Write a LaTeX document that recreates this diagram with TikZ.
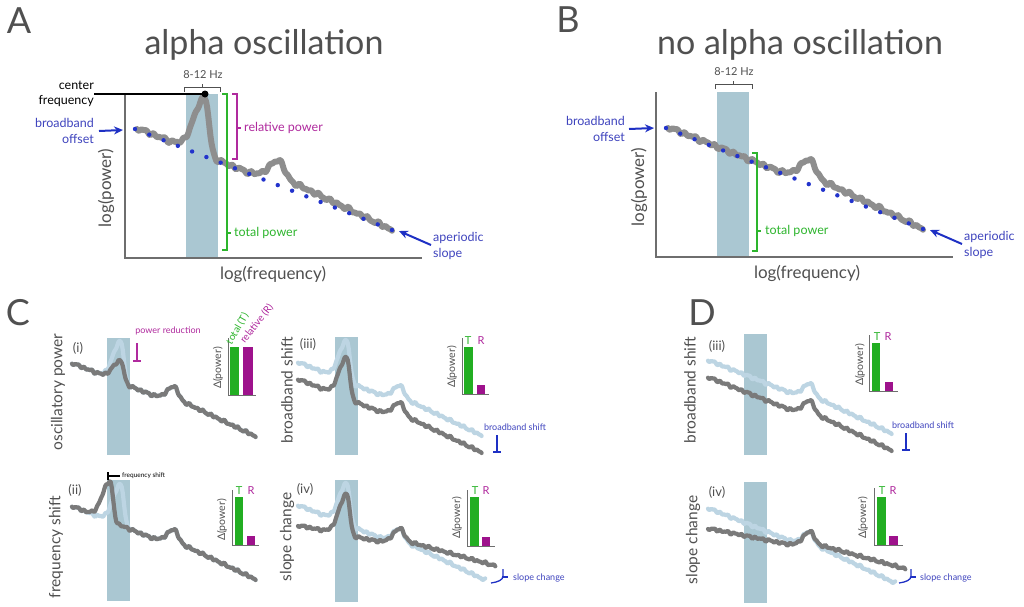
\documentclass[tikz,border=0pt]{standalone}
\usepackage{fontspec}
\setmainfont{Lato}
\usetikzlibrary{arrows.meta}
\definecolor{txtgray}{HTML}{505050}
\definecolor{axgray}{HTML}{6E6E6E}
\definecolor{curvegray}{HTML}{8E8E8E}
\definecolor{darkcurve}{HTML}{7A7A7A}
\definecolor{lightcurve}{HTML}{BDD5E3}
\definecolor{bandc}{HTML}{AAC7D2}
\definecolor{myblue}{HTML}{1E30C4}
\definecolor{dotc}{HTML}{2233CC}
\definecolor{bluetxt}{HTML}{3F44BE}
\definecolor{mymag}{HTML}{B02A9E}
\definecolor{mygreen}{HTML}{2DB52D}
\definecolor{barmag}{HTML}{9E128C}
\definecolor{bargreen}{HTML}{22AE22}
\tikzset{
 declare function={
  sq(\t)=\t*\t;
  nz(\x)=1.2*sin(37*\x)+0.8*sin(59*\x+40)+0.5*sin(23*\x+70);
  pk(\x,\C)=exp(-min(sq((\x-\C)/ifthenelse(\x<\C,15,5.5)),20));
  bp(\x)=18*exp(-min(sq((\x-141)/ifthenelse(\x<141,15,8)),20))+9*(255-\x)/115/(1+exp(min((138-\x)/3,9)));
  spec(\x,\A,\C)=0.4*\x-\A*pk(\x,\C)-bp(\x)+nz(\x);
 },
 letter/.style={font=\fontsize{36}{36}\selectfont, text=txtgray, inner sep=0},
 ttl/.style={font=\fontsize{34}{34}\selectfont, text=txtgray, inner sep=0},
 axlab/.style={font=\fontsize{17}{17}\selectfont, text=txtgray, inner sep=0},
 ann/.style={font=\fontsize{12.5}{15.5}\selectfont, inner sep=0},
 sidelab/.style={font=\fontsize{15.5}{15.5}\selectfont, text=txtgray, inner sep=0, rotate=90},
 numlab/.style={font=\fontsize{13}{13}\selectfont, text=txtgray, inner sep=0},
 hzlab/.style={font=\fontsize{11}{11}\selectfont, text=txtgray, inner sep=0},
 smalllab/.style={font=\fontsize{9}{9}\selectfont, inner sep=0},
 tinylab/.style={font=\fontsize{6.5}{6.5}\selectfont, inner sep=0},
 barlab/.style={font=\fontsize{11}{11}\selectfont, inner sep=0},
 rotlab/.style={font=\fontsize{10}{10}\selectfont, inner sep=0},
 dlab/.style={font=\fontsize{10.5}{10.5}\selectfont, text=txtgray, inner sep=0, rotate=90},
 axisline/.style={draw=axgray, line width=2.6pt},
 bigcurve/.style={draw=curvegray, line width=6pt, line join=round, line cap=round},
 dcurve/.style={draw=darkcurve, line width=4.2pt, line join=round, line cap=round},
 lcurve/.style={draw=lightcurve, line width=4.2pt, line join=round, line cap=round},
 bandfill/.style={fill=bandc},
 bararrow/.style={draw=myblue, line width=2pt, -{Stealth[length=9pt,width=8pt]}},
 baxis/.style={draw=axgray, line width=0.9pt},
 hzbr/.style={draw=txtgray, line width=0.9pt},
 magbr/.style={draw=mymag, line width=1.4pt},
 grnbr/.style={draw=mygreen, line width=1.4pt},
 bluemark/.style={draw=myblue, line width=1.3pt},
 gbar/.style={fill=bargreen},
 mbar/.style={fill=barmag},
}
\begin{document}
\begin{tikzpicture}[x=1pt,y=-1pt]
\useasboundingbox (0,0) rectangle (1024,606);
\fill[white] (0,0) rectangle (1024,606);

% ================= Panel A =================
\node[letter] (LA) at (19,21) {A};
\node[ttl] (TA) at (264,45) {alpha oscillation};
\fill[bandfill] (186,94) rectangle (218,258);
\draw[axisline] (125,93) -- (125,258) -- (422,258);
\begin{scope}[shift={(137,128)}]
 \draw[bigcurve] plot[domain=0:255,samples=230] (\x,{spec(\x,57,68)});
 \foreach \i in {0,...,18} \fill[dotc] ({-2+\i*257/18},{1+\i*101/18}) circle[radius=2.2pt];
\end{scope}
\node[hzlab] (hzA) at (203,75) {8-12 Hz};
\draw[hzbr] (184,92) -- (184,87) -- (220,87) -- (220,92);
\draw[hzbr] (202,87) -- (202,84);
\node[ann, anchor=east, align=right] (cf) at (94,94) {center\\frequency};
\node[fill=black, circle, inner sep=0, minimum size=7pt] (cfdot) at (205,94) {};
\draw[line width=1.6pt] (cf.east) -- (cfdot.center);
\node[ann, text=bluetxt, anchor=east, align=right] (boA) at (94,131) {broadband\\offset};
\coordinate (boAt) at (123,130);
\draw[bararrow] ([xshift=5pt]boA.east) -- (boAt);
\draw[magbr] (232,94) -- (237,94) -- (237,159) -- (232,159);
\draw[magbr] (237,128) -- (241,128);
\node[ann, text=mymag, anchor=west] (rpA) at (244,128) {relative power};
\draw[grnbr] (222,94) -- (227,94) -- (227,250) -- (222,250);
\draw[grnbr] (227,233) -- (231,233);
\node[ann, text=mygreen, anchor=west] (tpA) at (234,233) {total power};
\node[ann, text=bluetxt, anchor=west, align=left] (apA) at (433,246) {aperiodic\\slope};
\coordinate (apAt) at (399,231);
\draw[bararrow] ([xshift=-2pt,yshift=1pt]apA.west) -- (apAt);
\node[axlab, rotate=90] (ylA) at (106,188) {log(power)};
\node[axlab] (xlA) at (273,274) {log(frequency)};

% ================= Panel B =================
\node[letter] (LB) at (568,20) {B};
\node[ttl] (TB) at (800,45) {no alpha oscillation};
\fill[bandfill] (717,92) rectangle (749,257);
\draw[axisline] (656,92) -- (656,257) -- (953,257);
\begin{scope}[shift={(668,127)}]
 \draw[bigcurve] plot[domain=0:255,samples=230] (\x,{spec(\x,0,68)});
 \foreach \i in {0,...,18} \fill[dotc] ({-2+\i*257/18},{1+\i*101/18}) circle[radius=2.2pt];
\end{scope}
\node[hzlab] (hzB) at (734,72) {8-12 Hz};
\draw[hzbr] (715,89) -- (715,84) -- (752,84) -- (752,89);
\draw[hzbr] (733,84) -- (733,81);
\node[ann, text=bluetxt, anchor=east, align=right] (boB) at (625,129) {broadband\\offset};
\coordinate (boBt) at (654,128);
\draw[bararrow] ([xshift=4pt]boB.east) -- (boBt);
\draw[grnbr] (752,153) -- (757,153) -- (757,251) -- (752,251);
\draw[grnbr] (757,231) -- (761,231);
\node[ann, text=mygreen, anchor=west] (tpB) at (765,231) {total power};
\node[ann, text=bluetxt, anchor=west, align=left] (apB) at (964,245) {aperiodic\\slope};
\coordinate (apBt) at (930,230);
\draw[bararrow] ([xshift=-2pt,yshift=1pt]apB.west) -- (apBt);
\node[axlab, rotate=90] (ylB) at (639,187) {log(power)};
\node[axlab] (xlB) at (807,273) {log(frequency)};

% ================= Panel C =================
\node[letter] (LC) at (18,313) {C};

% (i) oscillatory power
\fill[bandfill] (107,338) rectangle (130,455);
\begin{scope}[shift={(72,363)}, scale=0.72]
 \draw[lcurve] plot[domain=0:255,samples=200] (\x,{spec(\x,57,68)});
 \draw[dcurve] plot[domain=0:255,samples=200] (\x,{spec(\x,30,68)});
\end{scope}
\node[numlab] (ci) at (78,348) {(i)};
\node[sidelab] (cil) at (58,392) {oscillatory power};
\node[smalllab, text=mymag] (prl) at (168,331) {power reduction};
\draw[magbr, line width=1.2pt] (137,343) -- (137,361);
\draw[magbr, line width=1.2pt] (133,361) -- (141,361);
\draw[baxis] (228,338) -- (228,395) -- (256,395);
\fill[gbar] (230,347) rectangle (239,395);
\fill[mbar] (243,347) rectangle (253,395);
\node[rotlab, text=mygreen, rotate=60, anchor=south west] (tT) at (233,346) {total (T)};
\node[rotlab, text=mymag, rotate=52, anchor=south west] (tR) at (246,345) {relative (R)};
\node[dlab] (dci) at (218,368) {Δ(power)};

% (ii) frequency shift
\fill[bandfill] (107,480) rectangle (130,601);
\begin{scope}[shift={(72,506)}, scale=0.72]
 \draw[lcurve] plot[domain=0:255,samples=200] (\x,{spec(\x,57,68)});
 \draw[dcurve] plot[domain=0:255,samples=200] (\x,{spec(\x,55,53)});
\end{scope}
\node[numlab] (cii) at (75,490) {(ii)};
\node[sidelab] (ciil) at (56,547) {frequency shift};
\draw[line width=1.2pt] (108,472) -- (108,480);
\draw[line width=1.2pt] (108,476) -- (120,476);
\node[tinylab, anchor=west] (fsl) at (122,476) {frequency shift};
\draw[baxis] (232,490) -- (232,545) -- (259,545);
\fill[gbar] (235,497) rectangle (243,545);
\fill[mbar] (247,536) rectangle (255,545);
\node[barlab, text=mygreen] (Tii) at (239,491) {T};
\node[barlab, text=mymag] (Rii) at (251,491) {R};
\node[dlab] (dcii) at (222,520) {Δ(power)};

% (iii) broadband shift
\fill[bandfill] (335,337) rectangle (358,455);
\begin{scope}[shift={(298,362)}, scale=0.72]
 \draw[lcurve] plot[domain=0:255,samples=200] (\x,{spec(\x,57,68)});
\end{scope}
\begin{scope}[shift={(298,379)}, scale=0.72]
 \draw[dcurve] plot[domain=0:255,samples=200] (\x,{spec(\x,57,68)});
\end{scope}
\node[numlab] (ciii) at (308,344) {(iii)};
\node[sidelab] (ciiil) at (287,390) {broadband shift};
\draw[baxis] (462,338) -- (462,394) -- (489,394);
\fill[gbar] (464,347) rectangle (473,394);
\fill[mbar] (477,385) rectangle (485,394);
\node[barlab, text=mygreen] (Tiii) at (468,341) {T};
\node[barlab, text=mymag] (Riii) at (481,341) {R};
\node[dlab] (dciii) at (452,367) {Δ(power)};
\node[smalllab, text=bluetxt] (bsl) at (515,427) {broadband shift};
\draw[bluemark] (497,435) -- (497,452);
\draw[bluemark] (493,452) -- (501,452);

% (iv) slope change
\fill[bandfill] (335,480) rectangle (358,602);
\begin{scope}[shift={(298,505)}, scale=0.72]
 \draw[lcurve] plot[domain=0:260,samples=200] (\x,{spec(\x,57,68)});
 \draw[dcurve] plot[domain=0:274,samples=210] (\x,{spec(\x,57,68)-0.2*(\x-141)});
\end{scope}
\node[numlab] (civ) at (305,489) {(iv)};
\node[sidelab] (civl) at (287,537) {slope change};
\draw[baxis] (467,490) -- (467,546) -- (495,546);
\fill[gbar] (470,497) rectangle (479,546);
\fill[mbar] (482,537) rectangle (490,546);
\node[barlab, text=mygreen] (Tiv) at (475,491) {T};
\node[barlab, text=mymag] (Riv) at (486,491) {R};
\node[dlab] (dciv) at (457,518) {Δ(power)};
\node[smalllab, text=bluetxt, anchor=west] (scl) at (513,578) {slope change};
\draw[bluemark] (503,569) -- (503,576) .. controls (503,580) and (498,582) .. (491,583);
\draw[bluemark] (503,577) -- (508,577);

% ================= Panel D =================
\node[letter] (LD) at (702,313) {D};

% (iii) broadband shift
\fill[bandfill] (744,334) rectangle (767,455);
\begin{scope}[shift={(708,360)}, scale=0.72]
 \draw[lcurve] plot[domain=0:255,samples=200] (\x,{spec(\x,0,68)});
\end{scope}
\begin{scope}[shift={(708,377)}, scale=0.72]
 \draw[dcurve] plot[domain=0:255,samples=200] (\x,{spec(\x,0,68)});
\end{scope}
\node[numlab] (diii) at (717,346) {(iii)};
\node[sidelab] (diiil) at (690,390) {broadband shift};
\draw[baxis] (869,335) -- (869,391) -- (898,391);
\fill[gbar] (872,343) rectangle (880,391);
\fill[mbar] (885,382) rectangle (893,391);
\node[barlab, text=mygreen] (TDiii) at (877,337) {T};
\node[barlab, text=mymag] (RDiii) at (888,337) {R};
\node[dlab] (ddiii) at (860,365) {Δ(power)};
\node[smalllab, text=bluetxt] (bslD) at (923,425) {broadband shift};
\draw[bluemark] (906,433) -- (906,450);
\draw[bluemark] (902,450) -- (910,450);

% (iv) slope change
\fill[bandfill] (744,482) rectangle (767,603);
\begin{scope}[shift={(708,508)}, scale=0.72]
 \draw[lcurve] plot[domain=0:260,samples=200] (\x,{spec(\x,0,68)});
 \draw[dcurve] plot[domain=0:274,samples=210] (\x,{spec(\x,0,68)-0.2*(\x-141)});
\end{scope}
\node[numlab] (div) at (717,492) {(iv)};
\node[sidelab] (divl) at (693,540) {slope change};
\draw[baxis] (874,488) -- (874,545) -- (903,545);
\fill[gbar] (877,497) rectangle (886,545);
\fill[mbar] (889,536) rectangle (898,545);
\node[barlab, text=mygreen] (TDiv) at (882,491) {T};
\node[barlab, text=mymag] (RDiv) at (893,491) {R};
\node[dlab] (ddiv) at (863,518) {Δ(power)};
\node[smalllab, text=bluetxt, anchor=west] (sclD) at (920,578) {slope change};
\draw[bluemark] (911,569) -- (911,576) .. controls (911,580) and (906,582) .. (899,583);
\draw[bluemark] (911,577) -- (916,577);
\end{tikzpicture}
\end{document}
